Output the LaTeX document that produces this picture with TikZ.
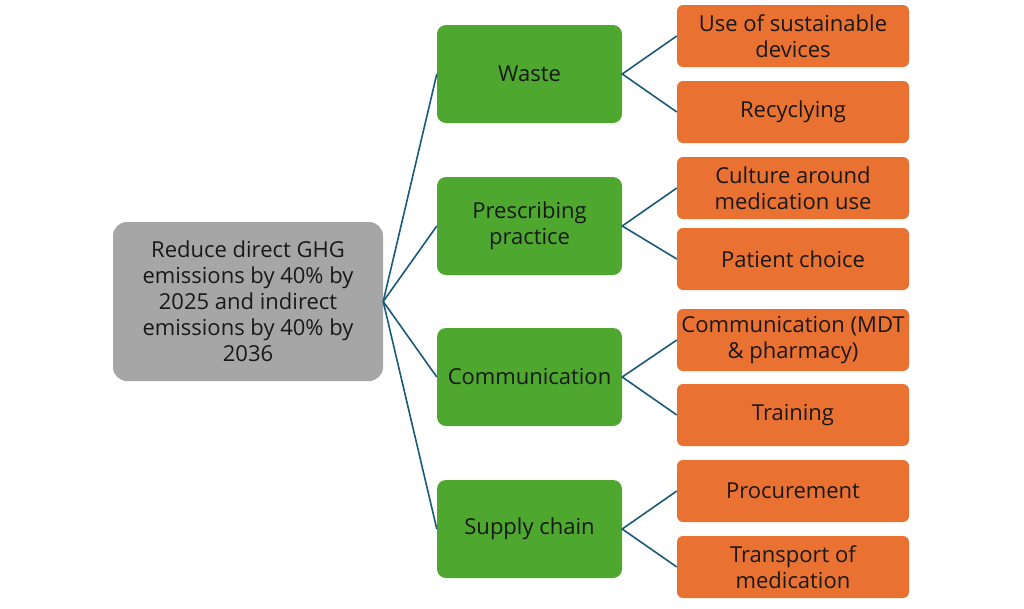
\documentclass[tikz,border=0pt]{standalone}
\usepackage{fontspec}
\setmainfont{Open Sans}
\definecolor{rootgray}{HTML}{A6A6A6}
\definecolor{catgreen}{HTML}{4EA72E}
\definecolor{leaforange}{HTML}{E97132}
\definecolor{linkblue}{HTML}{1A5A78}
\begin{document}
\begin{tikzpicture}[x=1pt,y=-1pt,
  every node/.style={font=\fontsize{22}{26}\selectfont, text=black!90, align=center, inner sep=0pt},
  rootbox/.style={fill=rootgray, rounded corners=14pt, minimum width=270pt, minimum height=159pt},
  catbox/.style={fill=catgreen, rounded corners=9pt, minimum width=185pt, minimum height=98pt},
  leafbox/.style={fill=leaforange, rounded corners=6pt, minimum width=232pt, minimum height=62pt},
  link/.style={draw=linkblue, line width=1.6pt}]
\useasboundingbox (0,0) rectangle (1024,608);
\node[rootbox] (root) at (248,301.5) {Reduce direct GHG\\emissions by 40\% by\\2025 and indirect\\emissions by 40\% by\\2036};
\node[catbox] (waste) at (529.5,74) {Waste};
\node[catbox] (presc) at (529.5,226) {Prescribing\\practice};
\node[catbox] (comm) at (529.5,377) {Communication};
\node[catbox] (supply) at (529.5,529) {Supply chain};
\node[leafbox] (l1) at (793,36) {Use of sustainable\\devices};
\node[leafbox] (l2) at (793,112) {Recyclying};
\node[leafbox] (l3) at (793,188) {Culture around\\medication use};
\node[leafbox] (l4) at (793,259) {Patient choice};
\node[leafbox] (l5) at (793,340) {Communication (MDT\\\& pharmacy)};
\node[leafbox] (l6) at (793,415) {Training};
\node[leafbox] (l7) at (793,491) {Procurement};
\node[leafbox] (l8) at (793,567) {Transport of\\medication};
\foreach \c in {waste,presc,comm,supply}
  \draw[link] (root.east) -- (\c.west);
\draw[link] (l1.west) -- (waste.east) -- (l2.west);
\draw[link] (l3.west) -- (presc.east) -- (l4.west);
\draw[link] (l5.west) -- (comm.east) -- (l6.west);
\draw[link] (l7.west) -- (supply.east) -- (l8.west);
\end{tikzpicture}
\end{document}
